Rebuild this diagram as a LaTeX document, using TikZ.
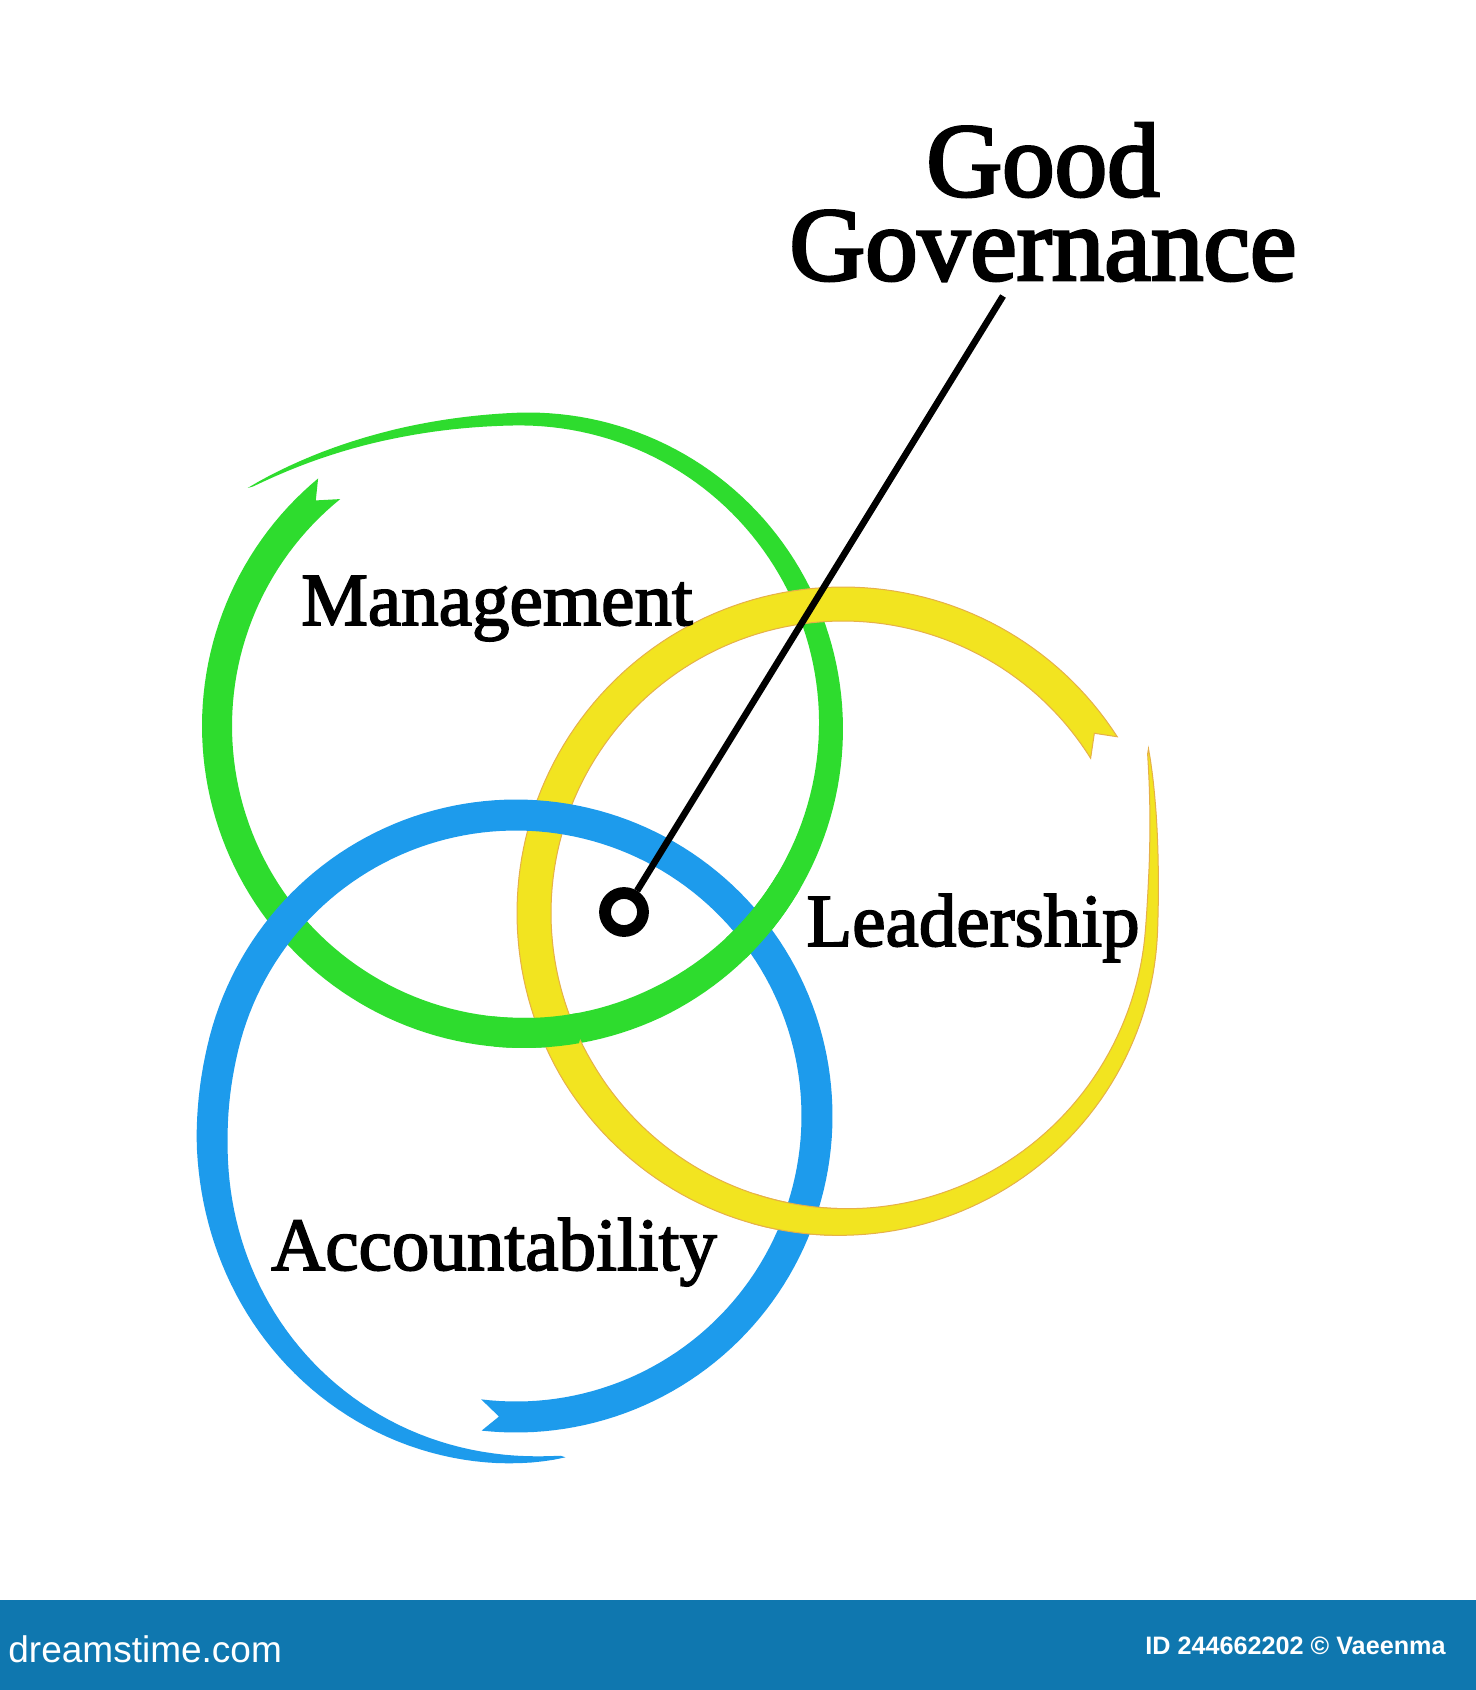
\documentclass[tikz,border=0pt]{standalone}
\usepackage{fontspec}
\setmainfont{Liberation Serif}
\newfontfamily\labelfont{Liberation Serif}[FakeBold=2.2]
\newfontfamily\headfont{Liberation Serif}[FakeBold=2.8]
\newfontfamily\footfont{Liberation Sans}

\definecolor{ringgreen}{HTML}{2EDC2E}
\definecolor{ringyellow}{HTML}{F2E420}
\definecolor{ringedge}{HTML}{E6B048}
\definecolor{ringblue}{HTML}{1D9BEC}
\definecolor{footblue}{HTML}{0F77AF}

\tikzset{
  ringtext/.style={font=\labelfont\fontsize{37.5}{45}\selectfont, anchor=base, inner sep=0},
  titletext/.style={font=\headfont\fontsize{52.5}{42}\selectfont, align=center, anchor=base, inner sep=0},
  connector/.style={line width=3.3pt, black},
  foottext/.style={text=white, inner sep=0}
}

% one brush stroke ring; uses \cx, \cy, \rr and ang(), off(), wid()
\newcommand{\brushring}[1]{%
  \fill[#1] plot[domain=0.002:1, samples=200, variable=\p]
      ({\cx+(\rr+off(\p)+wid(\p)/2)*cos(ang(\p))}, {\cy-(\rr+off(\p)+wid(\p)/2)*sin(ang(\p))})
    -- ({\cx+\rr*cos(ang(0.99))}, {\cy-\rr*sin(ang(0.99))})
    -- plot[domain=1:0.002, samples=200, variable=\p]
      ({\cx+(\rr+off(\p)-wid(\p)/2)*cos(ang(\p))}, {\cy-(\rr+off(\p)-wid(\p)/2)*sin(ang(\p))})
    -- cycle;}

\newcommand{\greenring}{%
  \begin{scope}[declare function={ang(\t)=140-371*\t; off(\t)=59*(max(0,1-\t/0.13))^2; wid(\t)=30*(min(1,\t/0.55))^0.6;}]
    \def\cx{524}\def\cy{726}\def\rr{307}
    \brushring{ringgreen}
  \end{scope}}

\newcommand{\yellowring}{%
  \begin{scope}[declare function={ang(\t)=29-357*\t; off(\t)=39*(max(0,1-\t/0.09))^2; wid(\t)=34*(min(1,\t/0.5))^0.6;}]
    \def\cx{843}\def\cy{913}\def\rr{309}
    \brushring{ringyellow, draw=ringedge, line width=0.5pt}
  \end{scope}}

\newcommand{\bluering}{%
  \begin{scope}[declare function={ang(\t)=-81-376*\t; off(\t)=43*(max(0,1-(\t/0.3)^2))^2; wid(\t)=31*(min(1,\t/0.25))^0.6;}]
    \def\cx{516}\def\cy{1116}\def\rr{301}
    \brushring{ringblue}
  \end{scope}}

\begin{document}
\begin{tikzpicture}[x=0.5pt, y=-0.5pt]

  % Page
  \fill[white] (0,0) rectangle (1476,1690);
  \useasboundingbox (0,0) rectangle (1476,1690);

  % The three brush rings
  \greenring
  \yellowring
  \bluering

  % Interlacing: stroke that lies on top at each crossing
  \begin{scope} \clip (536,1030) circle[radius=45]; \greenring \end{scope}
  \begin{scope} \clip (767,918) circle[radius=45]; \greenring \end{scope}
  \begin{scope} \clip (795,1214) circle[radius=45]; \yellowring \end{scope}

  % Hub and pointer to the title
  \node[circle, draw, line width=5.9pt, minimum size=19pt, inner sep=0] (hub) at (624,912) {};
  \coordinate (gg-tail) at (1003,296);
  \draw[connector] (hub) -- (gg-tail);

  % Labels
  \node[titletext] (gg) at (1043,280) {Good\\Governance};
  \node[ringtext] (mgmt) at (497,625) {Management};
  \node[ringtext] (lead) at (973,946) {Leadership};
  \node[ringtext] (acct) at (494,1270) {Accountability};

  % Footer band
  \fill[footblue] (0,1600) rectangle (1476,1690);
  \node[foottext, anchor=base west, font=\footfont\fontsize{18.5}{20}\selectfont] (site) at (8,1662) {dreamstime.com};
  \node[foottext, anchor=base east, font=\footfont\bfseries\fontsize{12.6}{14}\selectfont] (credit) at (1446,1654) {ID 244662202 © Vaeenma};

\end{tikzpicture}
\end{document}
